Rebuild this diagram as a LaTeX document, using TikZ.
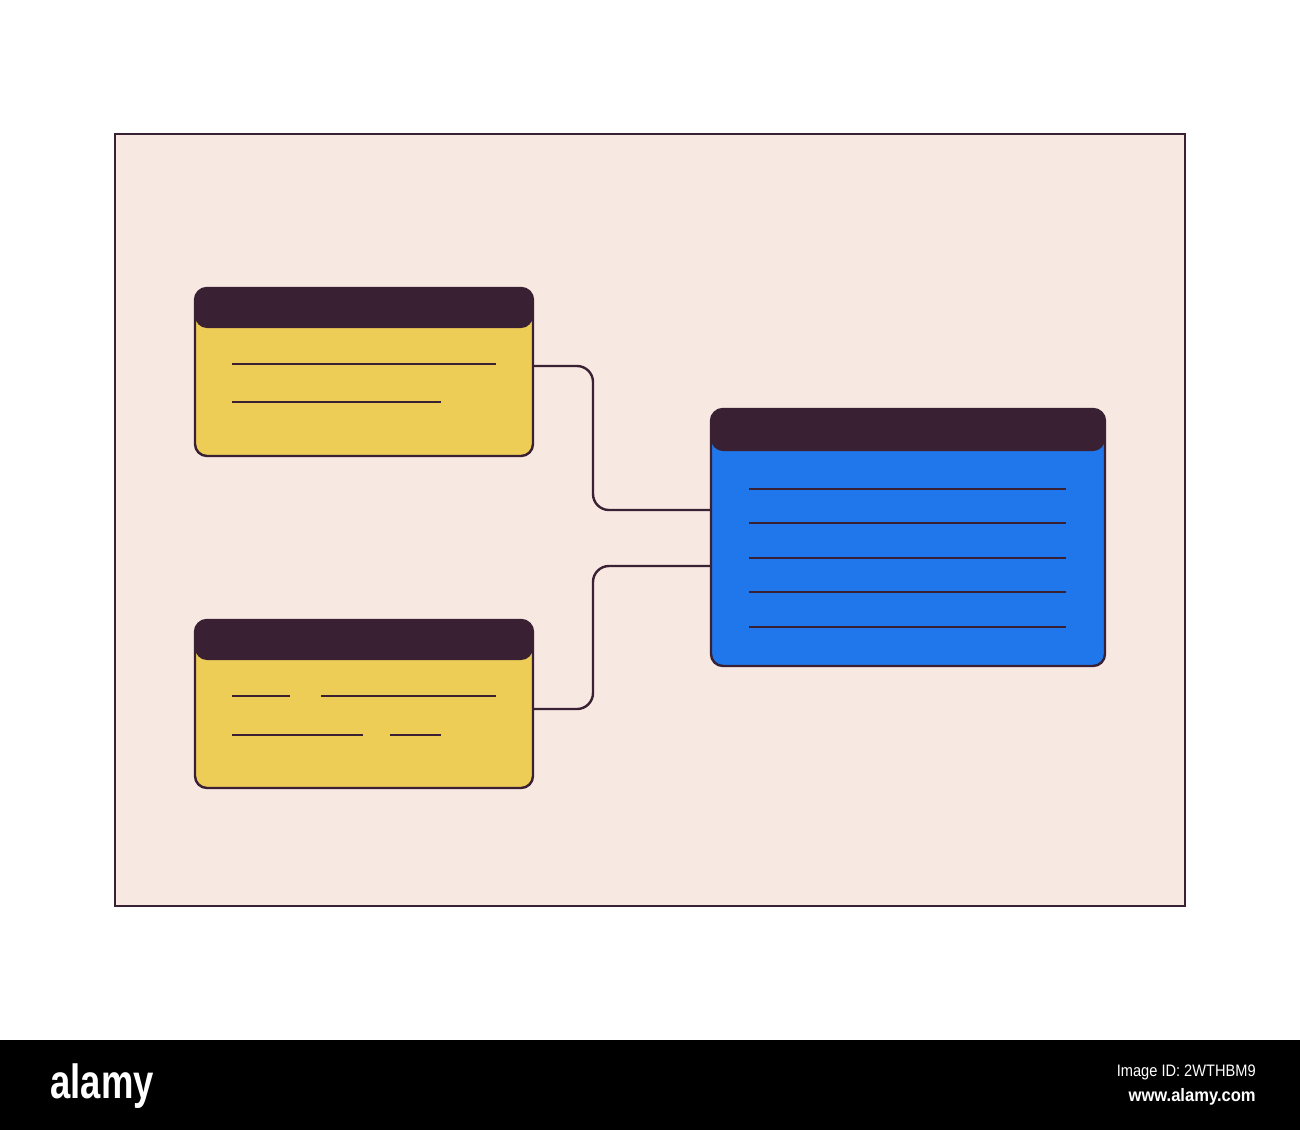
\documentclass[tikz,border=0pt]{standalone}
\usepackage{fontspec}
\setmainfont{Liberation Sans}
\definecolor{ink}{RGB}{58,32,51}
\definecolor{card}{RGB}{238,205,86}
\definecolor{sky}{RGB}{32,119,235}
\definecolor{paper}{RGB}{247,232,226}
\begin{document}
\begin{tikzpicture}[x=0.5pt,y=-0.5pt,
  panel/.style={rectangle, draw=ink, line width=1.2pt, rounded corners=6pt, inner sep=0pt, outer sep=0pt},
  hdr/.style={path picture={\fill[ink] (path picture bounding box.north west) rectangle ([yshift=-#1]path picture bounding box.north east);}},
  txtline/.style={draw=ink, line width=1.1pt},
  conn/.style={draw=ink, line width=1.2pt, rounded corners=8pt}]
\useasboundingbox (0,0) rectangle (1300,1130);
\fill[white] (0,0) rectangle (1300,1130);
% frame
\node[draw=ink, fill=paper, line width=1pt, inner sep=0pt, outer sep=0pt, minimum width=535pt, minimum height=386pt] (frame) at (650,520) {};
% cards
\node[panel, fill=card, hdr=20pt, minimum width=169pt, minimum height=84pt] (c1) at (364,372) {};
\node[panel, fill=card, hdr=20pt, minimum width=169pt, minimum height=84pt] (c2) at (364,704) {};
\node[panel, fill=sky, hdr=21pt, minimum width=197pt, minimum height=128.5pt] (b) at (908,537.5) {};
% text lines card 1
\draw[txtline] (232,364) -- (496,364);
\draw[txtline] (232,402) -- (441,402);
% text lines card 2
\draw[txtline] (232,696) -- (290,696);
\draw[txtline] (321,696) -- (496,696);
\draw[txtline] (232,735) -- (363,735);
\draw[txtline] (390,735) -- (441,735);
% text lines blue
\foreach \yy in {489,523,558,592,627} \draw[txtline] (749,\yy) -- (1066,\yy);
% connectors
\draw[conn] (c1.east |- 0,366) -- (593,366) -- (593,510) -- (b.west |- 0,510);
\draw[conn] (b.west |- 0,566) -- (593,566) -- (593,709) -- (c2.east |- 0,709);
% bottom bar
\fill[black] (0,1040) rectangle (1300,1130);
\node[text=white, font=\bfseries\fontsize{24}{24}\selectfont, xscale=0.76, anchor=west, inner sep=0pt] (logo) at (50,1086) {alamy};
\node[text=white, font=\fontsize{8.3}{9}\selectfont, xscale=0.88, anchor=east, inner sep=0pt] (imgid) at (1256,1072) {Image ID: 2WTHBM9};
\node[text=white, font=\bfseries\fontsize{9}{10}\selectfont, xscale=0.92, anchor=east, inner sep=0pt] (site) at (1256,1097) {www.alamy.com};
\end{tikzpicture}
\end{document}
